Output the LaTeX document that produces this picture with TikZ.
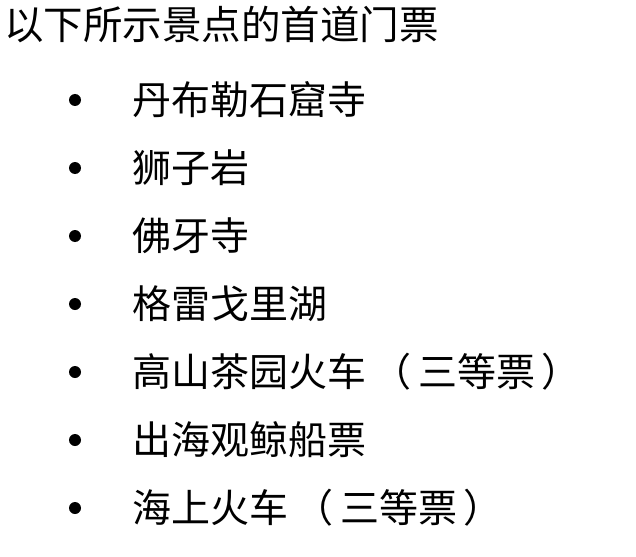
\documentclass[tikz,border=0pt]{standalone}
\usepackage{fontspec}
\newfontfamily\cjk{Noto Sans CJK SC}
\begin{document}
\begin{tikzpicture}[x=1pt,y=-1pt,
  title/.style={anchor=west,inner sep=0pt,font=\cjk\fontsize{39.5}{40}\selectfont},
  item/.style={anchor=west,inner sep=0pt,font=\cjk\fontsize{39}{39}\selectfont},
  dot/.style={circle,fill=black,inner sep=0pt,minimum size=12pt}]
  \useasboundingbox (0,0) rectangle (636,556);
  \node[title] (head) at (4,25) {以下所示景点的首道门票};
  \foreach \t [count=\i] in {丹布勒石窟寺,狮子岩,佛牙寺,格雷戈里湖,高山茶园火车\,（\,三等票\,）,出海观鲸船票,海上火车\,（\,三等票\,）}{
    \node[dot] (b\i) at (75,{100+68*(\i-1)}) {};
    \node[item] (t\i) at (132,{100+68*(\i-1)}) {\t};
  }
\end{tikzpicture}
\end{document}
